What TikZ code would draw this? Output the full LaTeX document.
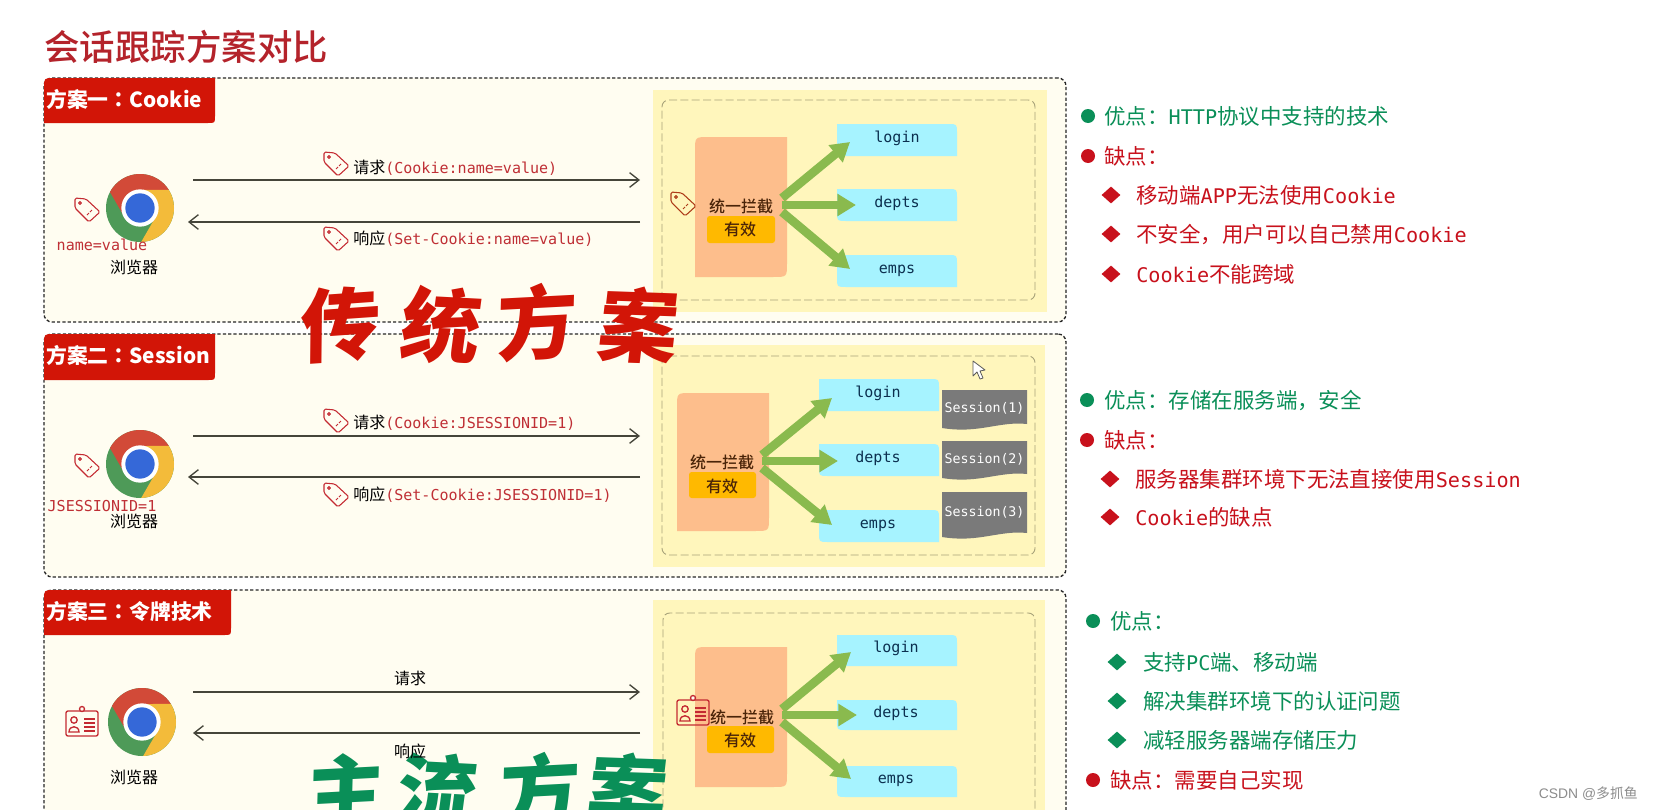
\documentclass[tikz,border=0pt]{standalone}
\usepackage{fontspec}
\setmainfont{Noto Sans CJK SC}
\newfontfamily\monof[Scale=0.94]{DejaVu Sans Mono}
\newfontfamily\tcf{Noto Sans CJK TC}
\newfontfamily\latinf{Liberation Sans}
\newfontfamily\medf{Noto Sans CJK SC Medium}
\usetikzlibrary{arrows.meta,shapes.geometric}
\def\upx{0.75pt}
\definecolor{cream}{HTML}{FFFDF1}
\definecolor{panelY}{HTML}{FFF6BC}
\definecolor{innerD}{HTML}{A8A37A}
\definecolor{oran}{HTML}{FDBE8C}
\definecolor{amber}{HTML}{FFB900}
\definecolor{skyb}{HTML}{A6F3FF}
\definecolor{grn}{HTML}{8ABA4E}
\definecolor{hdr}{HTML}{D21507}
\definecolor{ttl}{HTML}{B4232B}
\definecolor{lblr}{HTML}{BF2F35}
\definecolor{okg}{HTML}{0A8F58}
\definecolor{badr}{HTML}{C8111C}
\definecolor{navy}{HTML}{0B2F4F}
\definecolor{arrc}{HTML}{45453A}
\definecolor{sess}{HTML}{7A7A7A}
\definecolor{tagr}{HTML}{C42A32}
\definecolor{brownT}{HTML}{4A2408}
\tikzset{
  caseframe/.style={draw=black!85,line width=1pt,dash pattern=on 2.4pt off 1.6pt,fill=cream,rounded corners=6pt},
  innerframe/.style={draw=innerD,line width=.7pt,dash pattern=on 6pt off 2.5pt,rounded corners=5pt},
  flow/.style={draw=arrc,line width=1.4pt,-{Straight Barb[length=7pt,width=11pt,line width=1pt]}},
  fanout/.style={draw=grn,line width=6.5pt,-{Triangle[length=14pt,width=16pt]}},
  plainT/.style={inner sep=0pt,text height=.88*12pt,text depth=.12*12pt,font=\fontsize{12pt}{14pt}\selectfont},
  boldT/.style={inner sep=0pt,text height=.88*12pt,text depth=.12*12pt,text=brownT,font=\fontsize{12pt}{14pt}\selectfont\medf},
  labelT/.style={plainT,anchor=west},
  endpoint/.style={inner sep=0pt,text height=9pt,text depth=2.5pt,font=\fontsize{12pt}{14pt}\selectfont\monof,text=navy},
  headT/.style={inner sep=0pt,anchor=west,text=white,text height=14pt,text depth=2pt,font=\fontsize{15.6pt}{18pt}\selectfont\bfseries},
  sideT/.style={inner sep=0pt,anchor=west,text height=14pt,text depth=2pt,font=\fontsize{16.1pt}{18pt}\selectfont},
  dotb/.style={circle,inner sep=0pt,minimum size=14*\upx},
  diab/.style={diamond,inner sep=0pt,minimum width=19*\upx,minimum height=17*\upx},
  bigT/.style={inner sep=0pt,font=\fontsize{60pt}{62pt}\selectfont\bfseries},
  sessT/.style={inner sep=0pt,text=white,font=\fontsize{10.6pt}{12pt}\selectfont\monof},
}
% browser icon
\newcommand\chromeicon[2]{%
 \begin{scope}[shift={(#1,#2)},y=\upx]
  \fill[color={rgb,255:red,78;green,154;blue,88}] (0,0) circle (25.5pt);
  \fill[color={rgb,255:red,210;green,74;blue,56}] (32:25.5pt) arc[start angle=32,end angle=152,radius=25.5pt] -- (-15.6,-9) -- (0,18) -- cycle;
  \fill[color={rgb,255:red,243;green,187;blue,58}] (272:25.5pt) arc[start angle=272,end angle=392,radius=25.5pt] -- (0,18) -- (15.6,-9) -- cycle;
  \fill[white] (0,0) circle (14pt);
  \fill[color={rgb,255:red,53;green,104;blue,216}] (0,0) circle (11pt);
 \end{scope}}
% price tag icon
\newcommand\tagicon[3]{%
 \begin{scope}[shift={(#1,#2)},draw=#3,line width=.8pt,line join=round]
  \draw[rounded corners=1.2pt] (-12,-11) -- (-1,-10) -- (13,3) -- (2,13) -- (-12,-1) -- cycle;
  \draw (-7,-6) circle (1.4);
  \draw[line width=.6pt] (3,3) -- (5,1) (0,6) -- (2,4);
 \end{scope}}
% badge icon
\newcommand\cardicon[2]{%
 \begin{scope}[shift={(#1,#2)},draw=tagr,line width=1pt]
  \draw[rounded corners=1.5pt] (-16,-12) rectangle (16,13);
  \draw[fill=cream] (0,-14) circle (2.5);
  \draw (-8,-3) circle (3.2);
  \draw (-13,9) .. controls (-13,2) and (-3,2) .. (-3,9) -- cycle;
  \draw[line width=.8pt] (2,-4) -- (13,-4) (2,0) -- (13,0) (2,4) -- (13,4) (2,8) -- (13,8);
 \end{scope}}
% fill with two opposite corners rounded
\newcommand\diagfill[6]{\fill[#5] (#1,#2) -- (#3-#6,#2) .. controls (#3,#2) .. (#3,#2+#6) -- (#3,#4) -- (#1+#6,#4) .. controls (#1,#4) .. (#1,#4-#6) -- cycle;}
\newcommand\otherdiag[6]{\fill[#5] (#1+#6,#2) -- (#3,#2) -- (#3,#4-#6) .. controls (#3,#4) .. (#3-#6,#4) -- (#1,#4) -- (#1,#2+#6) .. controls (#1,#2) .. (#1+#6,#2) -- cycle;}
% red header flag
\newcommand\headflag[4]{\fill[hdr] (#1,#2+10) .. controls (#1,#2) .. (#1+10,#2) -- (#3,#2) -- (#3,#4-7) .. controls (#3,#4) .. (#3-7,#4) -- (#1,#4) -- cycle;}
% wavy note
\newcommand\sessionsheet[7]{\fill[sess] (#1,#2) -- (#3,#2) -- (#3,#4-7) .. controls (#3-28,#4-10) and (#3-48,#4+3) .. (#1,#4-3) -- cycle;
  \node[sessT] (#5) at ({(#1+#3)/2},{#2+#7}) {#6};}
\begin{document}
\begin{tikzpicture}[x=\upx,y=-\upx]
\useasboundingbox (0,0) rectangle (1654,810);
\begin{scope}
\clip (0,0) rectangle (1654,810);
\fill[white] (0,0) rectangle (1654,810);

\node[inner sep=0pt,anchor=west,text=ttl,font=\fontsize{26.6pt}{28pt}\selectfont\medf] (title) at (44,47) {会话跟踪方案对比};

% ---------- frames
\node[caseframe,minimum width=1022*\upx,minimum height=244*\upx] (case1) at (555,200) {};
\node[caseframe,minimum width=1022*\upx,minimum height=243*\upx] (case2) at (555,455.5) {};
\draw[caseframe] (44,830) -- (44,590) -- (1066,590) -- (1066,830);

% ---------- panels
\node[fill=panelY,minimum width=394*\upx,minimum height=222*\upx,inner sep=0pt] (p1) at (850,201) {};
\node[fill=panelY,minimum width=392*\upx,minimum height=222*\upx,inner sep=0pt] (p2) at (849,456) {};
\fill[panelY] (653,600) rectangle (1045,830);
\node[innerframe,minimum width=373*\upx,minimum height=200*\upx,inner sep=0pt] (i1) at (848.5,200) {};
\node[innerframe,minimum width=373*\upx,minimum height=199*\upx,inner sep=0pt] (i2) at (848.5,455.5) {};
\draw[innerframe] (663,830) -- (663,613) -- (1035,613) -- (1035,830);

% ---------- headers
\headflag{44}{78}{215}{123}
\node[headT] (h1) at (46,99) {方案一{\tcf ：}Cookie};
\headflag{44}{334}{215}{380}
\node[headT] (h2) at (46,355) {方案二{\tcf ：}Session};
\headflag{44}{590}{231}{635}
\node[headT] (h3) at (46,611) {方案三{\tcf ：}令牌技术};

% ---------- browser side
\chromeicon{140}{208}
\tagicon{87}{209}{tagr}
\node[plainT,text=lblr,font=\fontsize{12pt}{14pt}\selectfont\monof] (nv) at (102,244) {name=value};
\node[plainT] (b1) at (134,267) {浏览器};

\chromeicon{140}{464}
\tagicon{87}{465}{tagr}
\node[plainT,text=lblr,font=\fontsize{12pt}{14pt}\selectfont\monof] (js) at (102,505) {JSESSIONID=1};
\node[plainT] (b2) at (134,521) {浏览器};

\chromeicon{142}{722}
\cardicon{82}{723}
\node[plainT] (b3) at (134,777) {浏览器};

% ---------- flows
\coordinate (a1s) at (193,180); \coordinate (a1e) at (640,180);
\coordinate (a2s) at (640,222); \coordinate (a2e) at (188,222);
\draw[flow] (a1s) -- (a1e);
\draw[flow] (a2s) -- (a2e);
\tagicon{336}{163}{tagr}
\node[labelT] (l1) at (353,167) {请求{\monof\color{lblr}(Cookie:name=value)}};
\tagicon{336}{238}{tagr}
\node[labelT] (l2) at (353,238) {响应{\monof\color{lblr}(Set-Cookie:name=value)}};

\coordinate (b1s) at (193,436); \coordinate (b1e) at (640,436);
\coordinate (b2s) at (640,477); \coordinate (b2e) at (188,477);
\draw[flow] (b1s) -- (b1e);
\draw[flow] (b2s) -- (b2e);
\tagicon{336}{420}{tagr}
\node[labelT] (l3) at (353,422) {请求{\monof\color{lblr}(Cookie:JSESSIONID=1)}};
\tagicon{336}{494}{tagr}
\node[labelT] (l4) at (353,494) {响应{\monof\color{lblr}(Set-Cookie:JSESSIONID=1)}};

\coordinate (c1s) at (193,692); \coordinate (c1e) at (640,692);
\coordinate (c2s) at (640,733); \coordinate (c2e) at (193,733);
\draw[flow] (c1s) -- (c1e);
\draw[flow] (c2s) -- (c2e);
\node[plainT] (l5) at (410,678) {请求};

% ---------- scenario 1 panel
\otherdiag{695}{137}{787}{277}{oran}{14}
\node[minimum width=92*\upx,minimum height=140*\upx,inner sep=0pt] (o1) at (741,207) {};
\tagicon{683}{203}{black!30!tagr!70!orange}
\fill[amber,rounded corners=2pt] (707,216) rectangle (775,243);
\node[boldT] (u1) at (741,206) {统一拦截};
\node[boldT] (e1) at (740,229) {有效};
\diagfill{837}{124}{957}{156}{skyb}{9}
\node[endpoint,minimum width=120*\upx,minimum height=32*\upx] (lg1) at (897,138) {login};
\diagfill{837}{189}{957}{221}{skyb}{9}
\node[endpoint,minimum width=120*\upx,minimum height=32*\upx] (dp1) at (897,203) {depts};
\diagfill{837}{255}{957}{287}{skyb}{9}
\node[endpoint,minimum width=120*\upx,minimum height=32*\upx] (em1) at (897,269) {emps};
\coordinate (f1a) at (782,198); \coordinate (t1a) at (850,142);
\coordinate (f1b) at (782,205); \coordinate (t1b) at (856,205);
\coordinate (f1c) at (782,212); \coordinate (t1c) at (850,269);
\draw[fanout] (f1a) -- (t1a);
\draw[fanout] (f1b) -- (t1b);
\draw[fanout] (f1c) -- (t1c);

% ---------- scenario 2 panel
\otherdiag{677}{393}{769}{531}{oran}{14}
\node[minimum width=92*\upx,minimum height=138*\upx,inner sep=0pt] (o2) at (723,462) {};
\fill[amber,rounded corners=2pt] (689,472) rectangle (756,498);
\node[boldT] (u2) at (722,462) {统一拦截};
\node[boldT] (e2) at (722,486) {有效};
\diagfill{819}{379}{939}{411}{skyb}{9}
\node[endpoint,minimum width=120*\upx,minimum height=32*\upx] (lg2) at (878,393) {login};
\diagfill{819}{444}{939}{476}{skyb}{9}
\node[endpoint,minimum width=120*\upx,minimum height=32*\upx] (dp2) at (878,458) {depts};
\diagfill{819}{510}{939}{542}{skyb}{9}
\node[endpoint,minimum width=120*\upx,minimum height=32*\upx] (em2) at (878,524) {emps};
\coordinate (f2a) at (762,455); \coordinate (t2a) at (832,398);
\coordinate (f2b) at (762,461); \coordinate (t2b) at (838,461);
\coordinate (f2c) at (762,468); \coordinate (t2c) at (832,525);
\draw[fanout] (f2a) -- (t2a);
\draw[fanout] (f2b) -- (t2b);
\draw[fanout] (f2c) -- (t2c);
\sessionsheet{942}{390}{1027}{431}{s1}{Session(1)}{18}
\sessionsheet{942}{441}{1027}{481}{s2}{Session(2)}{18}
\sessionsheet{942}{492}{1027}{540}{s3}{Session(3)}{20}
\draw[fill=white,draw=black!65,line width=.6pt,line join=round] (973,361) -- (973,376) -- (977,372) -- (980,379) -- (983,378) -- (980,371) -- (985,370) -- cycle;

% ---------- scenario 3 panel
\otherdiag{695}{647}{787}{787}{oran}{14}
\node[minimum width=92*\upx,minimum height=140*\upx,inner sep=0pt] (o3) at (741,717) {};
\fill[amber,rounded corners=2pt] (707,726) rectangle (774,753);
\node[boldT] (u3) at (742,717) {统一拦截};
\node[boldT] (e3) at (740,740) {有效};
\cardicon{693}{712}
\diagfill{837}{635}{957}{666}{skyb}{9}
\node[endpoint,minimum width=120*\upx,minimum height=31*\upx] (lg3) at (896,648) {login};
\diagfill{837}{700}{957}{730}{skyb}{9}
\node[endpoint,minimum width=120*\upx,minimum height=30*\upx] (dp3) at (896,713) {depts};
\diagfill{837}{766}{957}{797}{skyb}{9}
\node[endpoint,minimum width=120*\upx,minimum height=31*\upx] (em3) at (896,779) {emps};
\coordinate (f3a) at (782,709); \coordinate (t3a) at (851,652);
\coordinate (f3b) at (782,715); \coordinate (t3b) at (857,715);
\coordinate (f3c) at (782,722); \coordinate (t3c) at (851,779);
\draw[fanout] (f3a) -- (t3a);
\draw[fanout] (f3b) -- (t3b);
\draw[fanout] (f3c) -- (t3c);

% ---------- overlay calligraphy
\node[bigT,text=hdr,rotate=4,xslant=.08] (big1) at (341,325) {传};
\node[bigT,text=hdr,rotate=-3,xslant=.08] (big2) at (441,325) {统};
\node[bigT,text=hdr,rotate=3,xslant=.08] (big3) at (537,322) {方};
\node[bigT,text=hdr,rotate=-2,xslant=.08] (big4) at (639,325) {案};
\node[bigT,text=okg,rotate=3,xslant=.08] (big5) at (346,791) {主};
\node[bigT,text=okg,rotate=-3,xslant=.08] (big6) at (438,791) {流};
\node[bigT,text=okg,rotate=3,xslant=.08] (big7) at (540,791) {方};
\node[bigT,text=okg,rotate=-2,xslant=.08] (big8) at (628,791) {案};
\node[plainT] (l6) at (410,751) {响应};

% ---------- right column 1
\node[dotb,fill=okg] (r1d) at (1088,116) {};
\node[sideT,text=okg] (r1) at (1104,116) {优点：{\monof HTTP}协议中支持的技术};
\node[dotb,fill=badr] (r2d) at (1088,156) {};
\node[sideT,text=badr] (r2) at (1104,156) {缺点：};
\node[diab,fill=badr] (r3d) at (1111,195) {};
\node[sideT,text=badr] (r3) at (1136,195) {移动端{\monof APP}无法使用{\monof Cookie}};
\node[diab,fill=badr] (r4d) at (1111,234) {};
\node[sideT,text=badr] (r4) at (1136,234) {不安全，用户可以自己禁用{\monof Cookie}};
\node[diab,fill=badr] (r5d) at (1111,274) {};
\node[sideT,text=badr] (r5) at (1136,274) {{\monof Cookie}不能跨域};
% right column 2
\node[dotb,fill=okg] (s1d) at (1087,400) {};
\node[sideT,text=okg] (s1t) at (1104,400) {优点：存储在服务端，安全};
\node[dotb,fill=badr] (s2d) at (1087,440) {};
\node[sideT,text=badr] (s2t) at (1104,440) {缺点：};
\node[diab,fill=badr] (s3d) at (1110,479) {};
\node[sideT,text=badr] (s3t) at (1135,479) {服务器集群环境下无法直接使用{\monof Session}};
\node[diab,fill=badr] (s4d) at (1110,517) {};
\node[sideT,text=badr] (s4t) at (1135,517) {{\monof Cookie}的缺点};
% right column 3
\node[dotb,fill=okg] (q1d) at (1093,621) {};
\node[sideT,text=okg] (q1t) at (1110,621) {优点：};
\node[diab,fill=okg] (q2d) at (1117,662) {};
\node[sideT,text=okg] (q2t) at (1143,662) {支持{\monof PC}端、移动端};
\node[diab,fill=okg] (q3d) at (1117,701) {};
\node[sideT,text=okg] (q3t) at (1143,701) {解决集群环境下的认证问题};
\node[diab,fill=okg] (q4d) at (1117,740) {};
\node[sideT,text=okg] (q4t) at (1143,740) {减轻服务器端存储压力};
\node[dotb,fill=badr] (q5d) at (1093,780) {};
\node[sideT,text=badr] (q5t) at (1110,780) {缺点：需要自己实现};

\node[inner sep=0pt,anchor=east,text=black!45,font=\fontsize{10.4pt}{13pt}\selectfont] (wm) at (1638,794) {{\latinf CSDN @}多抓鱼};
\end{scope}
\end{tikzpicture}
\end{document}
